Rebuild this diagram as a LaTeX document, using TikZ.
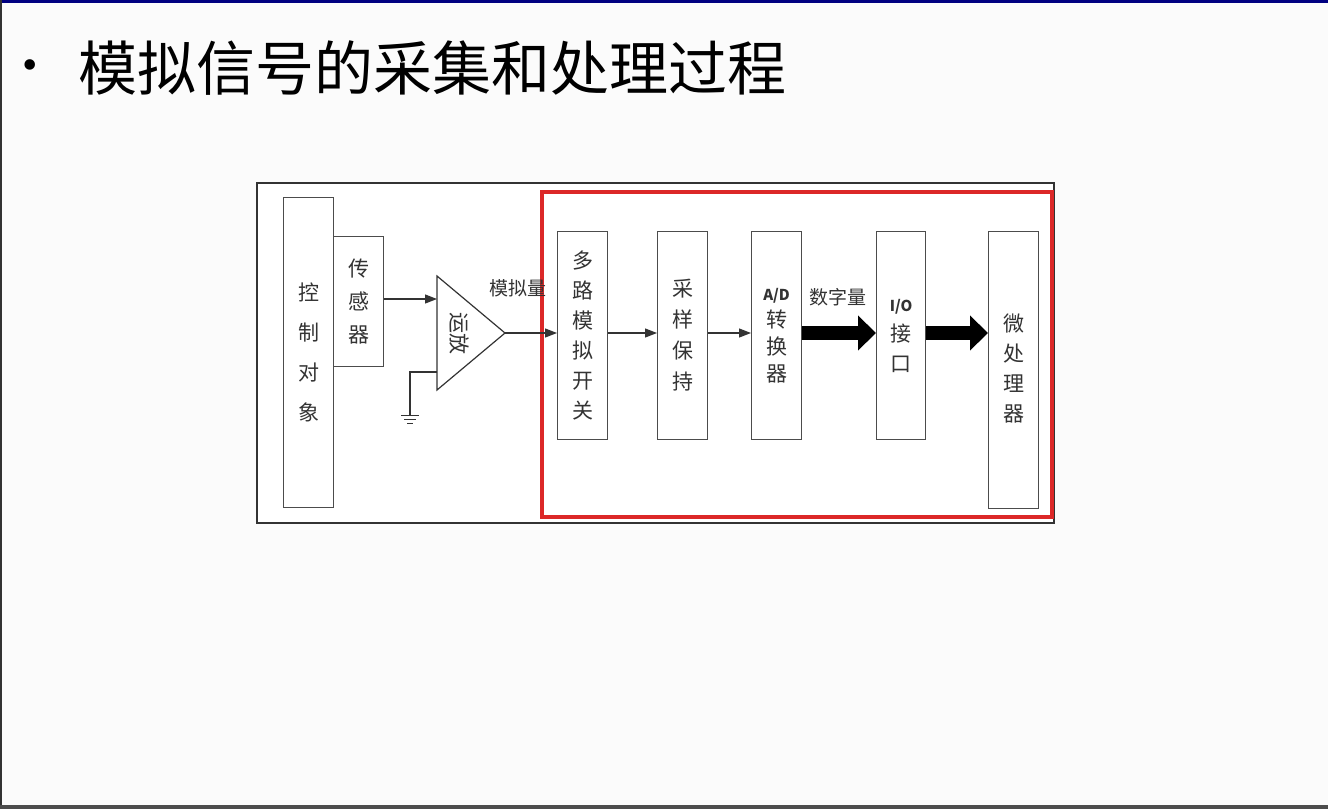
\documentclass[tikz,border=0pt]{standalone}
\usepackage{fontspec}
\newfontfamily\cjk{Noto Sans CJK SC}
\setmainfont{Liberation Serif}
\usetikzlibrary{arrows.meta}
\definecolor{redbox}{RGB}{220,40,40}
\begin{document}
\begin{tikzpicture}[x=1pt,y=-1pt,
  blk/.style={draw=black!70,line width=1.2pt,fill=white,inner sep=0pt},
  lbl/.style={font=\cjk\fontsize{21}{30}\selectfont,align=center,text=black!80},
  wide/.style={font=\cjk\fontsize{21}{40}\selectfont},
  thin/.style={line width=1.2pt,draw=black!80,-{Triangle[length=12pt,width=9pt]}},
  thick/.style={line width=14pt,draw=black,-{Triangle[length=18pt,width=34pt]}}]
\useasboundingbox (0,0) rectangle (1328,809);
\fill[white!97!gray] (0,0) rectangle (1328,809);
\fill[blue!50!black] (0,0) rectangle (1328,3);
\fill[black!80] (0,0) rectangle (2,809);
\fill[black!70] (0,805) rectangle (1328,809);
\node[font=\fontsize{44}{50}\selectfont] (bul) at (30,70) {•};
\node[anchor=west,font=\cjk\fontsize{59}{66}\selectfont,inner sep=0pt] (title) at (78,68) {模拟信号的采集和处理过程};
% panel
\node[draw=black!80,line width=1.5pt,fill=white,minimum width=797pt,minimum height=340pt,anchor=north west] (panel) at (256,182) {};
\node[draw=redbox,line width=4pt,minimum width=510pt,minimum height=325pt,anchor=north west] (red) at (540,190) {};
\node[blk,minimum width=50pt,minimum height=310pt,anchor=north west] (obj) at (283,197) {};
\node[lbl,wide] at (obj.center) {控\\制\\对\\象};
\node[blk,minimum width=50pt,minimum height=130pt,anchor=north west] (sen) at (333,236) {};
\node[lbl,font=\cjk\fontsize{21}{33}\selectfont] at (sen.center) {传\\感\\器};
\coordinate (ta) at (437,276);
\coordinate (tb) at (437,390);
\coordinate (tc) at (505,333);
\draw[line width=1.2pt,draw=black!80,fill=white] (ta) -- (tc) -- (tb) -- cycle;
\node[lbl,rotate=-90] (amp) at (459,333) {运放};
\draw[thin] (sen.east |- 0,299) -- (ta |- 0,299);
\coordinate (g0) at (437,372);
\coordinate (g1) at (410,372);
\coordinate (g2) at (410,415);
\draw[line width=1.2pt,draw=black!80] (g0) -- (g1) -- (g2);
\draw[line width=1pt,draw=black!80] (401,415) -- (419,415) (404,419) -- (416,419) (407,423) -- (413,423);
\node[lbl,font=\cjk\fontsize{19}{22}\selectfont] (ana) at (518,288) {模拟量};
\node[blk,minimum width=50pt,minimum height=208pt,anchor=north west] (mux) at (557,231) {};
\node[lbl] at (mux.center) {多\\路\\模\\拟\\开\\关};
\node[blk,minimum width=50pt,minimum height=208pt,anchor=north west] (sh) at (657,231) {};
\node[lbl,font=\cjk\fontsize{21}{31}\selectfont] at (sh.center) {采\\样\\保\\持};
\node[blk,minimum width=50pt,minimum height=208pt,anchor=north west] (ad) at (751,231) {};
\node[lbl,font=\cjk\fontsize{21}{27}\selectfont] at (ad.center) {\textbf{\fontsize{15}{18}\selectfont A/D}\\转\\换\\器};
\node[blk,minimum width=49pt,minimum height=208pt,anchor=north west] (io) at (876,231) {};
\node[lbl,font=\cjk\fontsize{21}{30}\selectfont] at (io.center) {\textbf{\fontsize{15}{18}\selectfont I/O}\\接\\口};
\node[blk,minimum width=50pt,minimum height=277pt,anchor=north west] (mp) at (988,231) {};
\node[lbl,font=\cjk\fontsize{21}{30}\selectfont] at ([yshift=2pt]mp.center) {微\\处\\理\\器};
\draw[thin] (tc) -- (mux.west |- tc);
\draw[thin] (mux.east |- tc) -- (sh.west |- tc);
\draw[thin] (sh.east |- tc) -- (ad.west |- tc);
\draw[thick] (ad.east |- tc) -- (io.west |- tc);
\draw[thick] (io.east |- tc) -- (mp.west |- tc);
\node[lbl,font=\cjk\fontsize{19}{22}\selectfont] (dig) at (838,297) {数字量};
\end{tikzpicture}
\end{document}
